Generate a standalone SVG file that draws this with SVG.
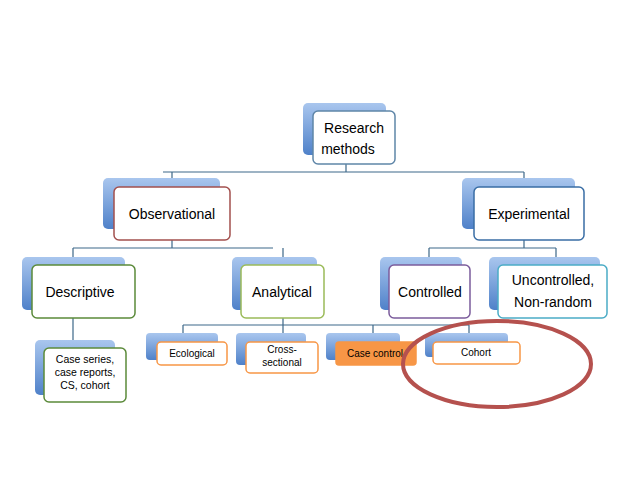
<svg xmlns="http://www.w3.org/2000/svg" width="638" height="479" viewBox="0 0 638 479">
<defs>
<linearGradient id="bg" x1="0" y1="0" x2="0" y2="1"><stop offset="0" stop-color="#a9c6ee"/><stop offset="1" stop-color="#4f81c9"/></linearGradient>
<style>
.back{fill:url(#bg)}
.f{fill:#fff;stroke-width:1.5}
.t{font-family:"Liberation Sans",Arial,sans-serif;fill:#000;text-anchor:middle}
.c{fill:none;stroke:#3d6889;stroke-width:1.2}
</style>
</defs>
<rect width="638" height="479" fill="#fff"/>
<g id="connectors">
<path class="c" d="M346 164V172M163 172H524M172 172V187M524 172V187M172 240V248M73 248H273M73 248V265M283 248V265M524 240V248M429 248H556M429 248V265M556 248V265M73 318V348M283 318V325M183 325H469M183 325V342M283 325V342M373 325V342M469 325V342"/>
</g>
<g id="research"><rect class="back" x="303" y="103" width="83" height="52" rx="5"/><rect class="f" x="313" y="111" width="82" height="53" rx="5" stroke="#5f86a8"/><text class="t" font-size="14"><tspan x="354" y="133">Research</tspan><tspan x="348" y="154">methods</tspan></text></g>
<g id="observational"><rect class="back" x="103" y="178" width="117" height="51" rx="5"/><rect class="f" x="114" y="187" width="116" height="53" rx="5" stroke="#a3504e"/><text class="t" x="172" y="219" font-size="14">Observational</text></g>
<g id="experimental"><rect class="back" x="462" y="178" width="113" height="51" rx="5"/><rect class="f" x="474" y="187" width="110" height="53" rx="5" stroke="#3a6ea5"/><text class="t" x="529" y="219" font-size="14">Experimental</text></g>
<g id="descriptive"><rect class="back" x="22" y="257" width="103" height="53" rx="5"/><rect class="f" x="32" y="265" width="103" height="53" rx="5" stroke="#5b8a3a"/><text class="t" x="80" y="297" font-size="14">Descriptive</text></g>
<g id="analytical"><rect class="back" x="232" y="257" width="85" height="53" rx="5"/><rect class="f" x="241" y="265" width="83" height="53" rx="5" stroke="#9bbb59"/><text class="t" x="282" y="297" font-size="14">Analytical</text></g>
<g id="controlled"><rect class="back" x="380" y="257" width="82" height="53" rx="5"/><rect class="f" x="389" y="265" width="81" height="53" rx="5" stroke="#7b5c9c"/><text class="t" x="430" y="297" font-size="14">Controlled</text></g>
<g id="uncontrolled"><rect class="back" x="489" y="257" width="111" height="53" rx="5"/><rect class="f" x="498" y="265" width="109" height="53" rx="5" stroke="#4bacc6"/><text class="t" font-size="14"><tspan x="553" y="285">Uncontrolled,</tspan><tspan x="553" y="307">Non-random</tspan></text></g>
<g id="caseseries"><rect class="back" x="35" y="340" width="80" height="55" rx="5"/><rect class="f" x="44" y="348" width="82" height="54" rx="5" stroke="#5b8a3a"/><text class="t" font-size="10.5"><tspan x="85" y="363">Case series,</tspan><tspan x="85" y="376">case reports,</tspan><tspan x="85" y="389">CS, cohort</tspan></text></g>
<g id="ecological"><rect class="back" x="146" y="333" width="72" height="27" rx="4"/><rect class="f" x="157" y="342" width="70" height="23" rx="4" stroke="#f79646"/><text class="t" x="192" y="357" font-size="10">Ecological</text></g>
<g id="cross"><rect class="back" x="236" y="333" width="70" height="32" rx="4"/><rect class="f" x="246" y="342" width="72" height="31" rx="4" stroke="#f79646"/><text class="t" font-size="10"><tspan x="282" y="353">Cross-</tspan><tspan x="282" y="366">sectional</tspan></text></g>
<g id="casecontrol"><rect class="back" x="326" y="333" width="74" height="27" rx="4"/><rect x="336" y="342" width="80" height="23" rx="3" fill="#f79646" stroke="#f79646" stroke-width="1.5"/><text class="t" x="375" y="357" font-size="10">Case control</text></g>
<g id="cohort"><rect class="back" x="425" y="333" width="83" height="24" rx="4"/><rect class="f" x="433" y="342" width="87" height="22" rx="4" stroke="#f79646"/><text class="t" x="476" y="356" font-size="10">Cohort</text></g>
<ellipse cx="497" cy="364" rx="94" ry="43" fill="none" stroke="#b5514e" stroke-width="4"/>
</svg>
